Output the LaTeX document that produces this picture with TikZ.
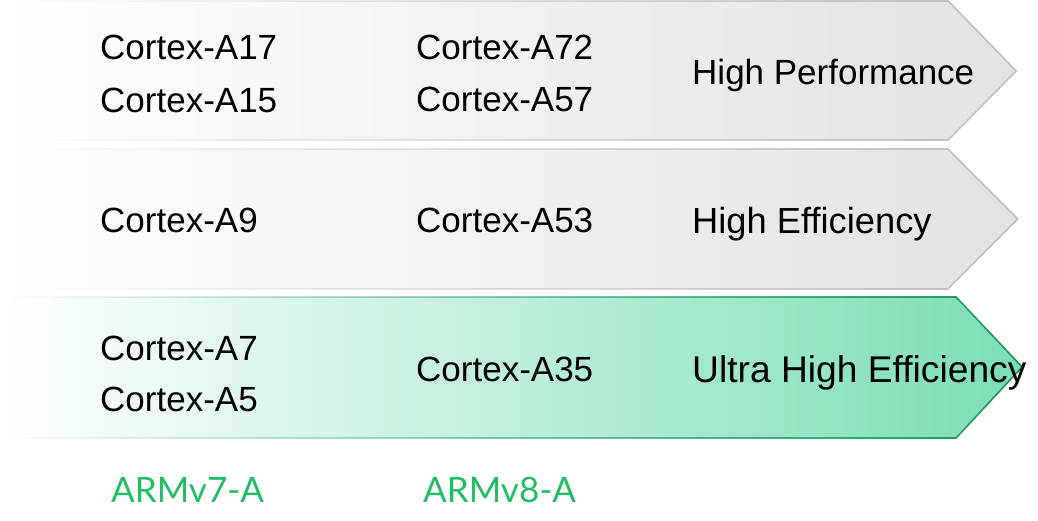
\documentclass[tikz,border=0pt]{standalone}
\usepackage{fontspec}
\setmainfont[Ligatures=NoCommon]{Liberation Sans}
\newfontfamily\armfont{Lato}
\usetikzlibrary{fadings}
\tikzfading[name=fadein, left color=transparent!100, right color=transparent!0]
\definecolor{greyfill}{RGB}{226,226,226}
\definecolor{greyline}{RGB}{190,190,190}
\definecolor{greenfill}{RGB}{122,222,180}
\definecolor{greenline}{RGB}{24,150,96}
\definecolor{armgreen}{RGB}{32,190,98}
\tikzset{
  greyarrow/.style={fill=greyfill, draw=greyline, line width=1.6pt, path fading=fadein},
  greenarrow/.style={fill=greenfill, draw=greenline, line width=1.6pt, path fading=fadein},
  lbl/.style={anchor=base west, inner sep=0pt, font=\fontsize{35}{40}\selectfont, text=black},
  arm/.style={anchor=base west, inner sep=0pt, font=\armfont\fontsize{35}{40}\selectfont, text=armgreen}
}
\begin{document}
\begin{tikzpicture}[x=1pt,y=-1pt]
\useasboundingbox (0,0) rectangle (1038,520);
\path[greyarrow] (5,1) -- (950,1) -- (1018,71) -- (950,140) -- (5,140) -- cycle;
\path[greyarrow] (5,149) -- (950,149) -- (1020,219) -- (950,289) -- (5,289) -- cycle;
\path[greenarrow] (5,297) -- (957,297) -- (1023,367) -- (957,438) -- (5,438) -- cycle;
\node[lbl] (a17) at (100,59) {Cortex-A17};
\node[lbl] (a15) at (100,112) {Cortex-A15};
\node[lbl] (a72) at (416,59) {Cortex-A72};
\node[lbl] (a57) at (416,111) {Cortex-A57};
\node[lbl] (hp) at (692,84) {High Performance};
\node[lbl] (a9) at (100,232) {Cortex-A9};
\node[lbl] (a53) at (416,232) {Cortex-A53};
\node[lbl, font=\fontsize{36.3}{40}\selectfont] (he) at (692,233) {High Efficiency};
\node[lbl] (a7) at (100,360) {Cortex-A7};
\node[lbl] (a5) at (100,411) {Cortex-A5};
\node[lbl] (a35) at (416,381) {Cortex-A35};
\node[lbl, font=\fontsize{37.2}{42}\selectfont] (uhe) at (692,382) {Ultra High Efficiency};
\node[arm] (v7) at (111,502) {ARMv7-A};
\node[arm] (v8) at (423,502) {ARMv8-A};
\end{tikzpicture}
\end{document}
